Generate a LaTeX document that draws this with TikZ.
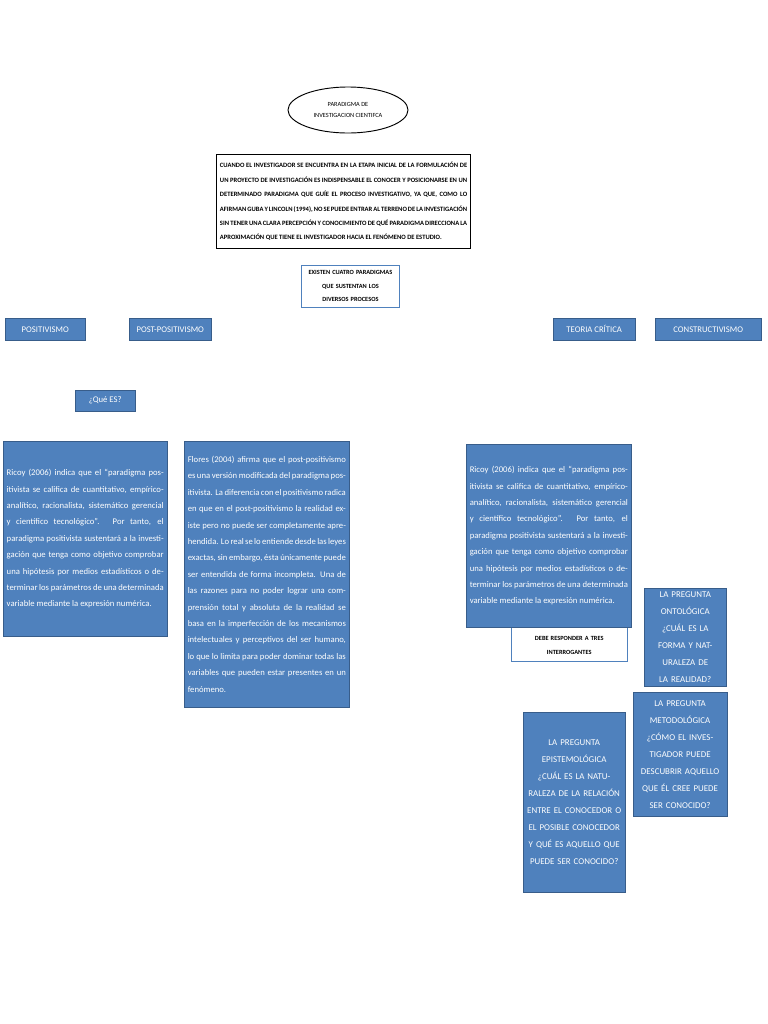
\documentclass[tikz,border=0pt]{standalone}
\usepackage{fontspec}
\setmainfont{Carlito}
\usetikzlibrary{shapes.geometric}
\definecolor{boxblue}{HTML}{4F81BD}
\definecolor{boxline}{HTML}{385D8A}
\tikzset{
  bluebox/.style={draw=boxline, fill=boxblue, text=white, inner sep=3pt, font=\fontsize{7.4}{14}\selectfont, anchor=north west},
  titlebox/.style={bluebox, align=center, font=\fontsize{7.4}{9}\selectfont},
  quesbox/.style={bluebox, align=center, font=\fontsize{7.6}{14.5}\selectfont},
  whitebox/.style={draw=boxblue, fill=white, inner sep=2pt, align=center, anchor=north west, font=\bfseries\fontsize{5.4}{11.5}\selectfont}
}
\begin{document}
\begin{tikzpicture}[x=0.03cm, y=-0.03cm]
		\useasboundingbox[fill=white] (0,0) rectangle (768,1024);
		\node [draw, thick, ellipse, minimum width=3.6cm, minimum height=1.38cm, inner sep=0pt, align=center, font=\fontsize{5.4}{10}\selectfont] (titulo) at (348,110) {PARADIGMA DE\\INVESTIGACION CIENTIFCA};
		\node [draw, thick, anchor=north west, inner sep=3pt, text width=211pt, minimum height=2.82cm, text justified, font=\bfseries\fontsize{5.6}{12.3}\selectfont] (intro) at (216,154) {CUANDO EL INVESTIGADOR SE ENCUENTRA EN LA ETAPA INICIAL DE LA FORMULACIÓN DE UN PROYECTO DE INVESTIGACIÓN ES INDISPENSABLE EL CONOCER Y POSICIONARSE EN UN DETERMINADO PARADIGMA QUE GUÍE EL PROCESO INVESTIGATIVO, YA QUE, COMO LO AFIRMAN GUBA Y LINCOLN (1994), NO SE PUEDE ENTRAR AL TERRENO DE LA INVESTIGACIÓN SIN TENER UNA CLARA PERCEPCIÓN Y CONOCIMIENTO DE QUÉ PARADIGMA DIRECCIONA LA APROXIMACIÓN QUE TIENE EL INVESTIGADOR HACIA EL FENÓMENO DE ESTUDIO.};
		\node [whitebox, text width=80pt, minimum height=1.26cm] (cuatro) at (301,265) {EXISTEN CUATRO PARADIGMAS\\QUE SUSTENTAN LOS\\DIVERSOS PROCESOS};
		% paradigmas
		\node [titlebox, minimum width=2.4cm, minimum height=0.66cm] (positivismo) at (5,318) {POSITIVISMO};
		\node [titlebox, minimum width=2.46cm, minimum height=0.66cm] (post) at (129,318) {POST-POSITIVISMO};
		\node [titlebox, minimum width=2.46cm, minimum height=0.66cm] (critica) at (553,318) {TEORIA CRÍTICA};
		\node [titlebox, minimum width=3.18cm, minimum height=0.66cm] (constructivismo) at (655,318) {CONSTRUCTIVISMO};
		\node [titlebox, minimum width=1.8cm, minimum height=0.63cm] (quees) at (75,390) {¿Qué ES?};
		% textos
		\node [bluebox, text width=134pt, minimum height=5.85cm, text justified] (ricoyA) at (3,441) {Ricoy (2006) indica que el “paradigma positivista se califica de cuantitativo, empírico-analítico, racionalista, sistemático gerencial y científico tecnológico”. Por tanto, el paradigma positivista sustentará a la investigación que tenga como objetivo comprobar una hipótesis por medios estadísticos o determinar los parámetros de una determinada variable mediante la expresión numérica.};
		\node [bluebox, text width=135pt, minimum height=7.98cm, text justified] (flores) at (184,441) {Flores (2004) afirma que el post-positivismo es una versión modificada del paradigma positivista. La diferencia con el positivismo radica en que en el post-positivismo la realidad existe pero no puede ser completamente aprehendida. Lo real se lo entiende desde las leyes exactas, sin embargo, ésta únicamente puede ser entendida de forma incompleta. Una de las razones para no poder lograr una comprensión total y absoluta de la realidad se basa en la imperfección de los mecanismos intelectuales y perceptivos del ser humano, lo que lo limita para poder dominar todas las variables que pueden estar presentes en un fenómeno.};
		\node [whitebox, text width=95pt, minimum height=1.23cm] (tres) at (511,620) {\\DEBE RESPONDER A TRES\\INTERROGANTES};
		\node [bluebox, text width=135pt, minimum height=5.49cm, text justified] (ricoyB) at (466,444) {Ricoy (2006) indica que el “paradigma positivista se califica de cuantitativo, empírico-analítico, racionalista, sistemático gerencial y científico tecnológico”. Por tanto, el paradigma positivista sustentará a la investigación que tenga como objetivo comprobar una hipótesis por medios estadísticos o determinar los parámetros de una determinada variable mediante la expresión numérica.};
		% preguntas
		\node [quesbox, text width=64pt, minimum height=2.82cm] (ontologica) at (644,588) {LA PREGUNTA\\ONTOLÓGICA\\¿CUÁL ES LA FORMA Y NATURALEZA DE LA REALIDAD?};
		\node [quesbox, text width=74pt, minimum height=3.72cm] (metodologica) at (633,692) {LA PREGUNTA\\METODOLÓGICA\\¿CÓMO EL INVESTIGADOR PUEDE DESCUBRIR AQUELLO QUE ÉL CREE PUEDE SER CONOCIDO?};
		\node [quesbox, text width=81pt, minimum height=5.4cm] (epistemologica) at (523,712) {LA PREGUNTA\\EPISTEMOLÓGICA\\¿CUÁL ES LA NATURALEZA DE LA RELACIÓN ENTRE EL CONOCEDOR O EL POSIBLE CONOCEDOR Y QUÉ ES AQUELLO QUE PUEDE SER CONOCIDO?};
	\end{tikzpicture}
\end{document}
